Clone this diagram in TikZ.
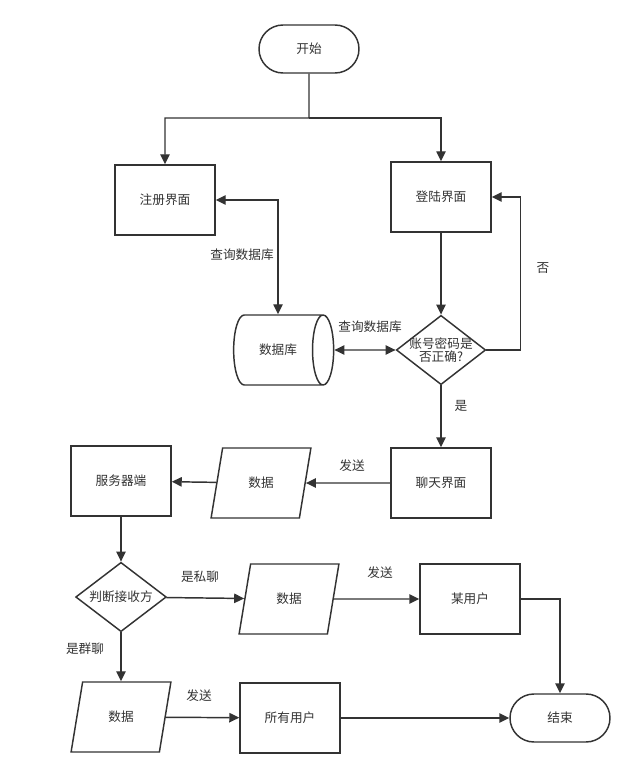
\documentclass[tikz,border=0pt]{standalone}
\usepackage{fontspec}
\setmainfont{Noto Sans CJK SC}
\usepackage{tikz}
\usetikzlibrary{positioning, arrows.meta, shapes.geometric, shapes.misc, calc}
\definecolor{fcInk}{HTML}{333333}

\begin{document}
\begin{tikzpicture}[
    x=0.75pt, y=-0.75pt,
    font=\fontsize{9.5pt}{12pt}\selectfont,
    every node/.style={text=fcInk},
    base/.style={draw=fcInk, line width=1.1pt, fill=white, inner sep=0pt},
    proc/.style={base, rectangle, minimum width=75pt, minimum height=52.5pt},
    term/.style={base, rounded rectangle, minimum width=75pt, minimum height=36pt},
    io/.style={base, trapezium, trapezium left angle=72, trapezium right angle=108,
               trapezium stretches=true, minimum width=75pt, minimum height=52.5pt},
    store/.style={base, cylinder, shape aspect=1.8, minimum width=52.5pt, minimum height=75pt},
    dec/.style={base, diamond, minimum width=67pt, minimum height=52pt},
    flow/.style={-{Triangle[length=7.5pt,width=7pt]}, draw=fcInk, line width=1.1pt},
    flow2/.style={{Triangle[length=7.5pt,width=7pt]}-{Triangle[length=7.5pt,width=7pt]}, draw=fcInk, line width=1.1pt},
    note/.style={font=\fontsize{9.5pt}{11pt}\selectfont},
]
\useasboundingbox (0,0) rectangle (635,777);

% ---- login part ----
\node[term]  (start) at (309,49)  {开始};
\node[proc]  (reg)   at (165,200) {注册界面};
\node[proc]  (login) at (441,197) {登陆界面};
\node[store] (db)    at (278,350) {数据库};
\node[dec, label={center:\parbox{60pt}{\centering 账号密码是\\[-2pt]否正确?}}] (check) at (441,350) {};

\coordinate (split) at (309,118);
\draw[flow] (start) -- (split) -| (reg);
\draw[flow] (split) -| (login);
\draw[flow2] (reg.east) -| (db.north);
\draw[flow2] (db) -- (check);
\draw[flow] (login) -- (check);
\draw[flow] (check.east) -- ++(34,0) |- (login.east);

\node[note] (lq1) at (242,255) {查询数据库};
\node[note] (lq2) at (370,327) {查询数据库};
\node[note] (lno) at (543,268) {否};
\node[note] (lyes) at (461,406) {是};

% ---- chat part ----
\node[proc] (chat)   at (441,483) {聊天界面};
\node[io]   (data1)  at (261,483) {数据};
\node[proc] (server) at (121,481) {服务器端};
\node[dec, minimum width=68pt, label={center:判断接收方}] (judge) at (121,597) {};
\node[io]   (data2)  at (289,599) {数据};
\node[proc] (user)   at (470,599) {某用户};
\node[io]   (data3)  at (121,717) {数据};
\node[proc] (all)    at (290,718) {所有用户};
\node[term] (stop)   at (560,718) {结束};

\draw[flow] (check) -- (chat);
\draw[flow] (chat) -- (data1);
\draw[flow] (data1) -- (server);
\draw[flow] (server) -- (judge);
\draw[flow] (judge) -- (data2);
\draw[flow] (data2) -- (user);
\draw[flow] (user.east) -| (stop.north);
\draw[flow] (judge) -- (data3);
\draw[flow] (data3) -- (all);
\draw[flow] (all) -- (stop);

\node[note] (lsend1) at (352,466) {发送};
\node[note] (lpriv)  at (200,577) {是私聊};
\node[note] (lsend2) at (380,573) {发送};
\node[note] (lgroup) at (85,649)  {是群聊};
\node[note] (lsend3) at (199,696) {发送};

\end{tikzpicture}
\end{document}
